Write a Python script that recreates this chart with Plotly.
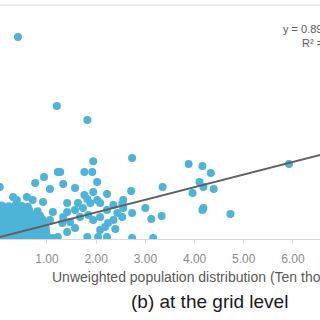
import plotly.graph_objects as go

# scatter data (Unweighted population distribution vs weighted)
x_vals = [
    0.41, 1.20, 1.82, 1.94, 2.73, 3.88, 4.16, 4.33, 5.92, 4.10, 4.18, 4.39, 3.96,
    4.18, 4.16, 4.73, 3.35, 3.00, 3.12, 3.33, 2.71, 2.73, 3.16, 1.76, 1.92, 2.02,
    1.22, 1.27, 0.94, 0.76, 1.06, 1.33, 1.57, 1.76, 1.94, 2.22, 1.82, 2.02, 0.04,
    0.31, 0.39, 0.59, 0.71, 0.92, 1.41, 2.08, 2.35, 2.55, 2.73, 2.53, 2.35, 2.24,
    2.18, 2.39, 2.08, 1.82, 2.04, 2.22, 1.57, 1.31, 1.41, 1.22, 1.12, 1.67, 1.84,
    1.94, 2.08, 1.73, 1.57, 1.41, 1.12, 1.33, 1.47, 1.06, 1.63, 1.88, 2.22, 2.43,
    2.55, 2.53,
    # dense cluster
    0.05, 0.13, 0.19, 0.29, 0.34, 0.43, 0.51, 0.57, 0.66, 0.71, 0.81, 0.87, 0.95, 1.01,
    0.08, 0.17, 0.24, 0.33, 0.41, 0.47, 0.56, 0.63, 0.69, 0.79, 0.84, 0.93, 0.99,
    0.06, 0.14, 0.23, 0.30, 0.39, 0.44, 0.53, 0.61, 0.67, 0.76, 0.82, 0.91, 0.98,
    0.11, 0.18, 0.27, 0.35, 0.42, 0.49, 0.58, 0.64, 0.74, 0.80, 0.89, 0.97,
    0.06, 0.16, 0.22, 0.32, 0.40, 0.49, 0.55, 0.64, 0.72, 0.83, 0.94,
    0.09, 0.21, 0.28, 0.37, 0.46, 0.54, 0.67, 0.77, 0.90,
    0.05, 0.15, 0.26, 0.36, 0.45, 0.59, 0.71, 0.86,
    0.12, 0.25, 0.39, 0.52, 0.64, 0.81,
    0.08, 0.22, 0.36, 0.49, 0.61,
]
y_vals = [
    14.28, 9.40, 8.41, 5.50, 5.72, 5.30, 5.16, 4.66, 5.30, 4.03, 3.67, 3.53, 3.25,
    2.19, 2.05, 1.77, 3.67, 2.19, 1.41, 1.63, 3.39, 0.07, 0.07, 4.73, 4.73, 4.03,
    4.73, 4.73, 4.38, 3.96, 3.53, 3.89, 3.60, 3.11, 3.32, 3.18, 2.83, 2.76, 3.67,
    2.97, 2.76, 2.97, 2.76, 2.61, 2.54, 2.54, 2.40, 2.19, 1.84, 1.55, 1.34, 1.13,
    0.85, 0.71, 0.64, 0.14, 0.14, 0.14, 0.78, 1.13, 0.49, 0.14, 0.07, 1.55, 1.70,
    1.34, 1.55, 2.19, 2.05, 1.91, 1.91, 1.55, 1.20, 1.34, 2.54, 2.54, 2.05, 1.84,
    2.76, 2.47,
    0.08, 0.12, 0.06, 0.10, 0.14, 0.07, 0.11, 0.09, 0.13, 0.06, 0.10, 0.12, 0.08, 0.11,
    0.36, 0.31, 0.39, 0.33, 0.37, 0.30, 0.35, 0.40, 0.32, 0.38, 0.34, 0.36, 0.31,
    0.62, 0.57, 0.65, 0.59, 0.63, 0.56, 0.61, 0.66, 0.58, 0.64, 0.60, 0.55, 0.63,
    0.86, 0.82, 0.89, 0.84, 0.90, 0.83, 0.87, 0.81, 0.88, 0.85, 0.80, 0.86,
    1.12, 1.08, 1.15, 1.10, 1.06, 1.14, 1.09, 1.13, 1.05, 1.11, 1.07,
    1.42, 1.37, 1.45, 1.40, 1.36, 1.44, 1.39, 1.34, 1.41,
    1.72, 1.68, 1.75, 1.70, 1.66, 1.73, 1.69, 1.64,
    2.02, 1.98, 2.06, 1.99, 2.04, 1.96,
    2.36, 2.31, 2.40, 2.33, 2.28,
]

# linear trend line
slope = 0.8912
intercept = 0.1034
r2 = 0.5127
line_x = [0.0, 7.0]
line_y = [slope * v + intercept for v in line_x]

x_ticks = [0, 1, 2, 3, 4, 5, 6, 7]

fig = go.Figure()
fig.add_trace(go.Scatter(
    x=x_vals, y=y_vals, mode="markers",
    marker=dict(color="#4db4d8", size=8, line=dict(width=0)),
    showlegend=False, hoverinfo="skip",
))
fig.add_trace(go.Scatter(
    x=line_x, y=line_y, mode="lines",
    line=dict(color="#606060", width=2),
    showlegend=False, hoverinfo="skip",
))

fig.update_layout(
    width=320, height=320,
    margin=dict(l=0, r=0, t=5, b=81),
    paper_bgcolor="white", plot_bgcolor="white",
    font=dict(family="Liberation Sans, Arial, sans-serif", color="#595959"),
    xaxis=dict(
        range=[0.045, 6.55], tickvals=x_ticks, tickformat=".2f",
        showgrid=False, zeroline=False, showline=True, linecolor="#d9d9d9", linewidth=1,
        ticks="outside", ticklen=4, tickcolor="#d9d9d9", ticklabelstandoff=5,
        tickfont=dict(size=12, color="#8a8a8a"),
    ),
    yaxis=dict(range=[0, 16.54], visible=False),
    shapes=[dict(type="line", xref="paper", yref="paper", x0=0, x1=1, y0=1, y1=1,
                 line=dict(color="#d9d9d9", width=1))],
    annotations=[
        dict(text="y = 0.8912x + 0.1034", xref="paper", yref="paper",
             x=281 / 320, y=0.897, xanchor="left", yanchor="middle", showarrow=False,
             font=dict(size=11, color="#595959")),
        dict(text="R² = 0.5127", xref="paper", yref="paper",
             x=300 / 320, y=0.838, xanchor="left", yanchor="middle", showarrow=False,
             font=dict(size=11, color="#595959")),
        dict(text="Unweighted population distribution (Ten thousand)", xref="paper", yref="paper",
             x=50 / 320, y=-0.162, xanchor="left", yanchor="middle", showarrow=False,
             font=dict(size=14, color="#595959")),
        dict(text="(b) at the grid level", xref="paper", yref="paper",
             x=209 / 320, y=-0.269, xanchor="center", yanchor="middle", showarrow=False,
             font=dict(size=19, color="#1a1a1a")),
    ],
)

fig.write_html("out.html")
